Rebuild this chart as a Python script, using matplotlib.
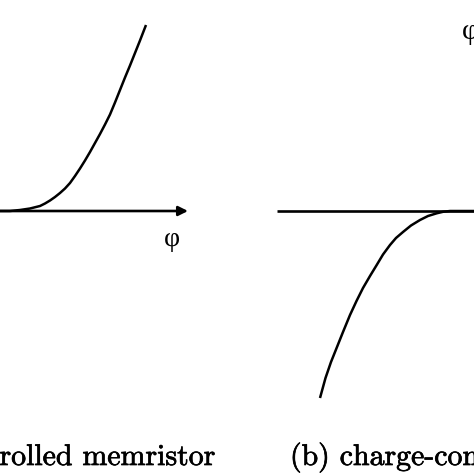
import matplotlib
matplotlib.use("Agg")
import matplotlib.pyplot as plt
import matplotlib.patheffects as pe

# Left panel: flux-controlled memristor, q(phi)
phi_a = [0.00, 0.10, 0.20, 0.30, 0.40, 0.45, 0.50, 0.55, 0.60, 0.65, 0.70, 0.75, 0.80,
         0.85, 0.90, 0.95, 1.00, 1.05, 1.10, 1.15, 1.20, 1.25, 1.30, 1.35, 1.40, 1.46]
q_a = [0.00, 0.00, 0.01, 0.025, 0.05, 0.075, 0.105, 0.14, 0.18, 0.225, 0.28, 0.35, 0.425,
       0.505, 0.59, 0.68, 0.77, 0.865, 0.965, 1.085, 1.21, 1.335, 1.455, 1.58, 1.705, 1.86]

# Right panel: charge-controlled memristor
phi_b = [0.00, -0.14, -0.24, -0.31, -0.373, -0.46, -0.54, -0.63, -0.71, -0.78, -0.84,
         -0.91, -0.973, -1.04, -1.11, -1.175, -1.24, -1.31, -1.37, -1.43, -1.485, -1.54]
q_b = [0.00, 0.00, 0.00, -0.008, -0.023, -0.05, -0.09, -0.145, -0.21, -0.27, -0.34,
       -0.435, -0.54, -0.65, -0.77, -0.90, -1.04, -1.21, -1.36, -1.51, -1.67, -1.87]

axis_a = [0.0, 1.88]
axis_b = [-1.97, 0.10]

caption_a = "rolled memristor"
caption_b = "(b) charge-controlled memristor"
axis_label = "\u03c6"

W = 474
fig = plt.figure(figsize=(4.74, 4.74), dpi=100)
ylim = (-2.63, 2.11)

ax1 = fig.add_axes([0, 0, 230 / W, 1])
ax1.set_xlim(0, 2.30)
ax1.set_ylim(*ylim)
ax1.axis("off")
ax1.plot(phi_a, q_a, color="black", lw=1.8, solid_capstyle="butt", solid_joinstyle="round")
ax1.annotate("", xy=(axis_a[1], 0), xytext=(axis_a[0], 0),
             arrowprops=dict(arrowstyle="-|>", lw=1.9, color="black",
                             mutation_scale=14, shrinkA=0, shrinkB=0))
ax1.text(1.72, -0.28, axis_label, fontsize=20, family="Liberation Serif",
         ha="center", va="center")

ax2 = fig.add_axes([250 / W, 0, 224 / W, 1])
ax2.set_xlim(-2.24, 0)
ax2.set_ylim(*ylim)
ax2.axis("off")
ax2.plot(axis_b, [0, 0], color="black", lw=1.9, solid_capstyle="butt")
ax2.plot(phi_b, q_b, color="black", lw=1.8, solid_capstyle="butt", solid_joinstyle="round")
ax2.text(-0.04, 1.79, axis_label, fontsize=21, family="Liberation Serif",
         ha="center", va="center", clip_on=False)

stroke = [pe.withStroke(linewidth=0.5, foreground="black")]
fig.text(215 / W, 1 - 465 / W, caption_a, fontsize=21.5, family="cmr10",
         ha="right", va="baseline", path_effects=stroke)
fig.text(290 / W, 1 - 465 / W, caption_b, fontsize=21.5, family="cmr10",
         ha="left", va="baseline", path_effects=stroke)

fig.savefig("out.png", dpi=100, facecolor="white")
